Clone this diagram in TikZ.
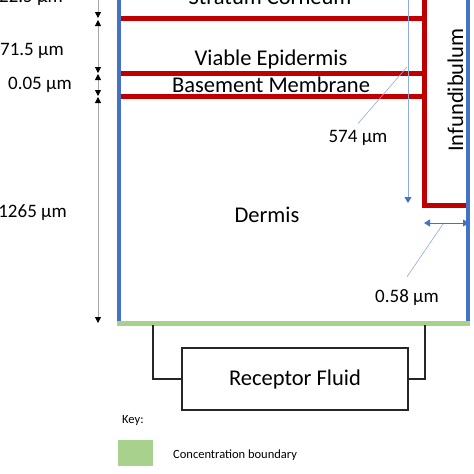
\documentclass[tikz,border=0pt]{standalone}
\usepackage{fontspec}
\setmainfont{Carlito}
\usetikzlibrary{arrows.meta}
\definecolor{skinblue}{HTML}{4472C4}
\definecolor{skinred}{HTML}{C00000}
\definecolor{bndgreen}{HTML}{A9D18E}
\definecolor{leadgray}{HTML}{8FAADC}
\definecolor{dimgray}{HTML}{A6A6A6}
\newcommand\bigtxt{\fontsize{22.5}{27}\selectfont}
\newcommand\midtxt{\fontsize{19}{23}\selectfont}
\newcommand\smalltxt{\fontsize{12.5}{15}\selectfont}
\begin{document}
\begin{tikzpicture}[x=1pt,y=-1pt,
  wall/.style={draw=skinblue, line width=4pt},
  layer/.style={draw=skinred, line width=5pt},
  boundary/.style={draw=bndgreen, line width=5pt},
  layertext/.style={anchor=base, inner sep=0pt, font=\bigtxt},
  dimlabel/.style={anchor=base east, inner sep=0pt, font=\midtxt},
  sidelabel/.style={anchor=base, inner sep=0pt, font=\midtxt},
  dimline/.style={draw=dimgray, line width=0.8pt,
    {Triangle[length=6pt,width=6pt,color=black]}-{Triangle[length=6pt,width=6pt,color=black]}},
  bluedim/.style={draw=skinblue, line width=1pt,
    {Triangle[length=6pt,width=7pt]}-{Triangle[length=6pt,width=7pt]}},
  depthline/.style={draw=leadgray, line width=1pt, -{Triangle[length=6pt,width=7pt,color=skinblue]}},
  leader/.style={draw=leadgray, line width=0.6pt},
  conn/.style={draw=black!85, line width=1.2pt},
  fluidbox/.style={draw=black!85, line width=1.2pt, minimum width=226pt, minimum height=62pt, inner sep=0pt, font=\bigtxt},
  keysquare/.style={fill=bndgreen, minimum width=35pt, minimum height=26pt, inner sep=0pt},
  keytext/.style={anchor=base west, inner sep=0pt, font=\smalltxt}
]
\useasboundingbox (0,0) rectangle (474,474);

% layer lines
\draw[layer] (121,18) -- (424,18);
\draw[layer] (121,73) -- (424,73);
\draw[layer] (121,96) -- (424,96);
\draw[layer, line join=miter] (424,-10) -- (424,205) -- (466,205);

% walls and boundary
\draw[wall] (119,-10) -- (119,323);
\draw[wall] (468,-10) -- (468,323);
\draw[boundary] (117,323) -- (470,323);

% layer labels
\node[layertext] (sc) at (270,4) {Stratum Corneum};
\node[layertext] (ve) at (271,65) {Viable Epidermis};
\node[layertext] (bm) at (271,92) {Basement Membrane};
\node[layertext] (de) at (267,222) {Dermis};
\node[layertext, rotate=90] (inf) at (463,90) {Infundibulum};

% left dimension arrows
\draw[dimline] (98,-20) -- (98,18);
\draw[dimline] (98,20) -- (98,73);
\draw[dimline] (98,74) -- (98,96);
\draw[dimline] (98,97) -- (98,323);
\node[dimlabel] (d1) at (63,2) {22.5 µm};
\node[dimlabel] (d2) at (64,55) {71.5 µm};
\node[dimlabel] (d3) at (72,89) {0.05 µm};
\node[dimlabel] (d4) at (67,217) {1265 µm};

% infundibulum depth
\coordinate (itop) at (408,-10);
\coordinate (ibot) at (408,203);
\draw[depthline] (itop) -- (ibot);
\coordinate (c574) at (407,67);
\node[sidelabel] (l574) at (358,142) {574 µm};
\draw[leader] (c574) -- ([yshift=6pt]l574.north);

% infundibulum gap
\coordinate (gapl) at (424,223);
\coordinate (gapr) at (469,223);
\draw[bluedim] (gapl) -- (gapr);
\coordinate (c058) at (443,224);
\node[sidelabel] (l058) at (407,302) {0.58 µm};
\draw[leader] (c058) -- ([yshift=12pt]l058.north);

% receptor fluid
\node[fluidbox] (rf) at (295,379) {Receptor Fluid};
\coordinate (gl) at (153,325);
\coordinate (gr) at (425,325);
\draw[conn] (gl) |- (rf.west);
\draw[conn] (gr) |- (rf.east);

% key
\node[keytext] (key) at (122,423) {Key:};
\node[keysquare] (ksq) at (135.5,453) {};
\node[keytext] (kcb) at (173,458) {Concentration boundary};
\end{tikzpicture}
\end{document}
